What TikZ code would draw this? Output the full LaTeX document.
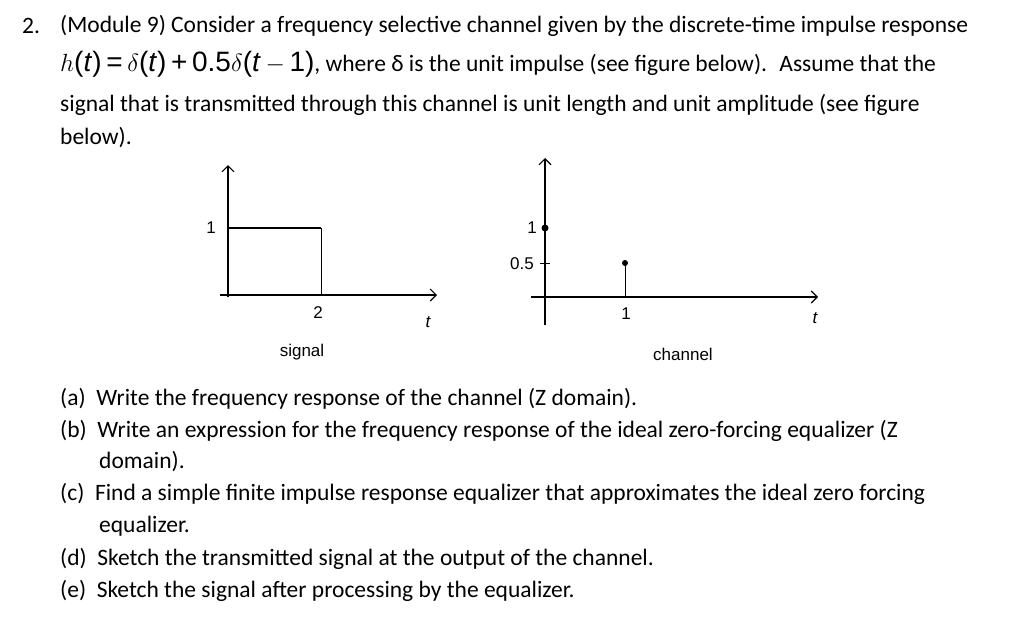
\documentclass[tikz,border=0pt]{standalone}
\usepackage{fontspec}
\setmainfont{Carlito}
\newfontfamily\eqf{Liberation Sans}
\newfontfamily\hand{Liberation Sans}
\usetikzlibrary{arrows.meta}
\begin{document}
\begin{tikzpicture}[x=1pt,y=-1pt,
  txt/.style={anchor=west,inner sep=0pt,font=\fontsize{23.5}{26}\selectfont},
  hw/.style={inner sep=0pt,font=\hand\fontsize{17}{19}\selectfont},
  ax/.style={line width=1.1pt,-{Straight Barb[length=6pt]}},
  sig/.style={line width=1pt}]
\useasboundingbox[fill=white] (0,0) rectangle (1024,625);
\node[txt] (n2) at (22,26) {2.};
\node[txt] (l1) at (60,26) {(Module 9) Consider a frequency selective channel given by the discrete-time impulse response};
\node[txt] (l2) at (60,64) {{\eqf\fontsize{28}{30}\selectfont $h$(\textit{t})\,=\,$\delta$(\textit{t})\,+\,0.5$\delta$(\textit{t}\,$-$\,1)}, where δ is the unit impulse (see figure below). \ Assume that the};
\node[txt] (l3) at (60,105) {signal that is transmitted through this channel is unit length and unit amplitude (see figure};
\node[txt] (l4) at (60,138) {below).};
% signal plot
\draw[ax] (228,297) -- (228,165);
\draw[ax] (220,295) -- (437,295);
\draw[line width=1.6pt] (228,228) -- (321,228);
\draw[sig] (321,228) -- (321,295);
\node[hw] (s1) at (211,228) {1};
\node[hw] (s2) at (318,313) {2};
\node[hw] (st) at (428,322) {\itshape t};
\node[hw] (sl) at (302,352) {signal};
% channel plot
\draw[ax] (545,325) -- (545,158);
\draw[ax] (531,297) -- (818,297);
\draw[line width=1pt] (540,263) -- (550,263);
\fill (545,228) circle (3.5pt);
\draw[line width=1pt] (625,297) -- (625,263);
\fill (625,263) circle (3pt);
\node[hw] (c1) at (532,228) {1};
\node[hw] (c05) at (522,264) {0.5};
\node[hw] (c1b) at (626,314) {1};
\node[hw] (ct) at (815,318) {\itshape t};
\node[hw] (cl) at (683,354) {channel};
% items
\node[txt] (a) at (60,399) {(a)\ \ Write the frequency response of the channel (Z domain).};
\node[txt] (b) at (60,431) {(b)\ \ Write an expression for the frequency response of the ideal zero-forcing equalizer (Z};
\node[txt] (b2) at (99,462) {domain).};
\node[txt] (c) at (60,494) {(c)\ \ Find a simple finite impulse response equalizer that approximates the ideal zero forcing};
\node[txt] (c2) at (99,526) {equalizer.};
\node[txt] (d) at (60,559) {(d)\ \ Sketch the transmitted signal at the output of the channel.};
\node[txt] (e) at (60,591) {(e)\ \ Sketch the signal after processing by the equalizer.};
\end{tikzpicture}
\end{document}
